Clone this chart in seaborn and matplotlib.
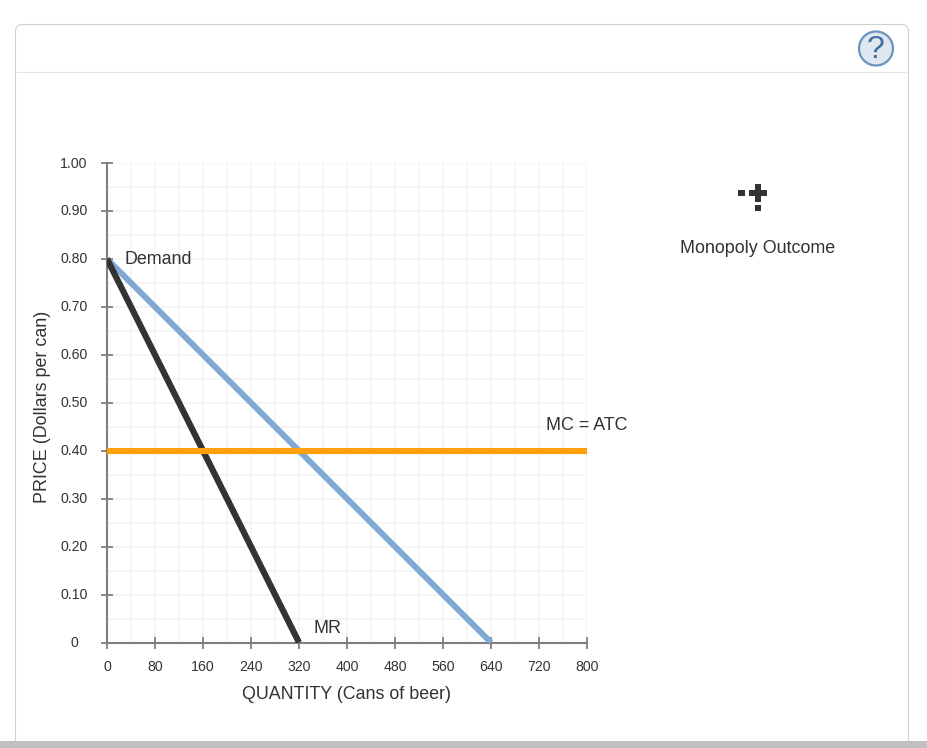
import matplotlib
matplotlib.use("Agg")
import matplotlib.pyplot as plt
from matplotlib.patches import FancyBboxPatch, Rectangle, Circle
from matplotlib.ticker import MultipleLocator
from matplotlib.transforms import ScaledTranslation
import numpy as np
import pandas as pd
import seaborn as sns

x_ticks = [0, 80, 160, 240, 320, 400, 480, 560, 640, 720, 800]
y_ticks = [0, 0.10, 0.20, 0.30, 0.40, 0.50, 0.60, 0.70, 0.80, 0.90, 1.00]
y_labels = ["0", "0.10", "0.20", "0.30", "0.40", "0.50", "0.60", "0.70", "0.80", "0.90", "1.00"]

demand_q = [0, 640]
demand_p = [0.80, 0]
mr_q = [0, 320]
mr_p = [0.80, 0]
mc_q = [0, 800]
mc_p = [0.40, 0.40]

W, H = 928, 748
sns.set_theme(style="white")
plt.rcParams["font.family"] = ["Liberation Sans", "DejaVu Sans"]
fig = plt.figure(figsize=(W / 100, H / 100), dpi=100, facecolor="white")

# page overlay in pixel coordinates
bg = fig.add_axes([0, 0, 1, 1], zorder=0)
bg.set_xlim(0, W)
bg.set_ylim(H, 0)
bg.axis("off")
bg.add_patch(FancyBboxPatch((15.5, 24.5), 893, 760, boxstyle="round,pad=0,rounding_size=7",
                            fc="white", ec="#d0d0d0", lw=0.8))
bg.plot([16, 908], [72, 72], color="#e6e6e6", lw=0.8, solid_capstyle="butt")
bg.add_patch(Rectangle((0, 741), W, 7, fc="#c0c0c0", ec="none", zorder=5))
bg.add_patch(Circle((876, 48.5), 17, fc="#dfe8f0", ec="#6a95c0", lw=1.6))
bg.text(876, 50, "?", ha="center", va="center", fontsize=23, color="#3f6f9f")
icon = "#333333"
for x0, y0, w, h in [(738, 190, 7, 6), (749, 190, 18, 6), (755, 184, 6, 18), (755, 205, 6, 6)]:
    bg.add_patch(Rectangle((x0, y0), w, h, fc=icon, ec="none"))
bg.text(758, 248, "Monopoly Outcome", ha="center", va="center", fontsize=12.9, color="#333333")

# main chart
L, R, T, B = 107, 587, 163, 642.5
ax = fig.add_axes([L / W, 1 - B / H, (R - L) / W, (B - T) / H], zorder=2)
ax.patch.set_alpha(0)
ax.set_xlim(0, 800)
ax.set_ylim(0, 1.0)

ax.xaxis.set_minor_locator(MultipleLocator(40))
ax.yaxis.set_minor_locator(MultipleLocator(0.05))
ax.grid(which="both", color="#f5f5f5", lw=1.4, zorder=0)
ax.set_axisbelow(True)

sns.lineplot(data=pd.DataFrame({"q": demand_q, "p": demand_p}), x="q", y="p", ax=ax,
             color="#7fa9d1", lw=4.3, solid_capstyle="butt", zorder=3, estimator=None, sort=False)
sns.lineplot(data=pd.DataFrame({"q": mr_q, "p": mr_p}), x="q", y="p", ax=ax,
             color="#333333", lw=4.5, solid_capstyle="butt", zorder=4, estimator=None, sort=False)
sns.lineplot(data=pd.DataFrame({"q": mc_q, "p": mc_p}), x="q", y="p", ax=ax,
             color="#ff9f0a", lw=4.4, solid_capstyle="butt", zorder=5, estimator=None, sort=False)

ax.set_xticks(x_ticks)
ax.set_xticklabels([str(v) for v in x_ticks])
ax.set_yticks(y_ticks)
ax.set_yticklabels(y_labels, ha="center")
ax.tick_params(axis="both", which="major", direction="inout", length=8, width=1.3, color="#7f7f7f",
               labelsize=10.2, labelcolor="#333333", bottom=True, left=True)
ax.tick_params(axis="x", which="major", pad=8.8)
ax.tick_params(axis="y", which="major", pad=19.8)
ax.tick_params(which="minor", length=0)
shift_up = ScaledTranslation(0, 1 / 100, fig.dpi_scale_trans)
for label in ax.get_yticklabels():
    label.set_transform(label.get_transform() + shift_up)
for s in ["top", "right"]:
    ax.spines[s].set_visible(False)
for s in ["left", "bottom"]:
    ax.spines[s].set_color("#7f7f7f")
    ax.spines[s].set_linewidth(1.5)

ax.set_xlabel("QUANTITY (Cans of beer)", fontsize=12.9, color="#333333")
ax.set_ylabel("PRICE (Dollars per can)", fontsize=12.9, color="#333333")
ax.xaxis.set_label_coords(0.499, -0.091)
ax.yaxis.set_label_coords(-0.117, 0.491)

ax.text(30, 0.799, "Demand", ha="left", va="center", fontsize=12.9, color="#333333", zorder=6)
ax.text(800, 0.453, "MC = ATC", ha="center", va="center", fontsize=12.9, color="#333333", zorder=6)
ax.text(368, 0.030, "MR", ha="center", va="center", fontsize=12.9, color="#333333", zorder=6)

fig.savefig("out.png", dpi=100, facecolor="white")
